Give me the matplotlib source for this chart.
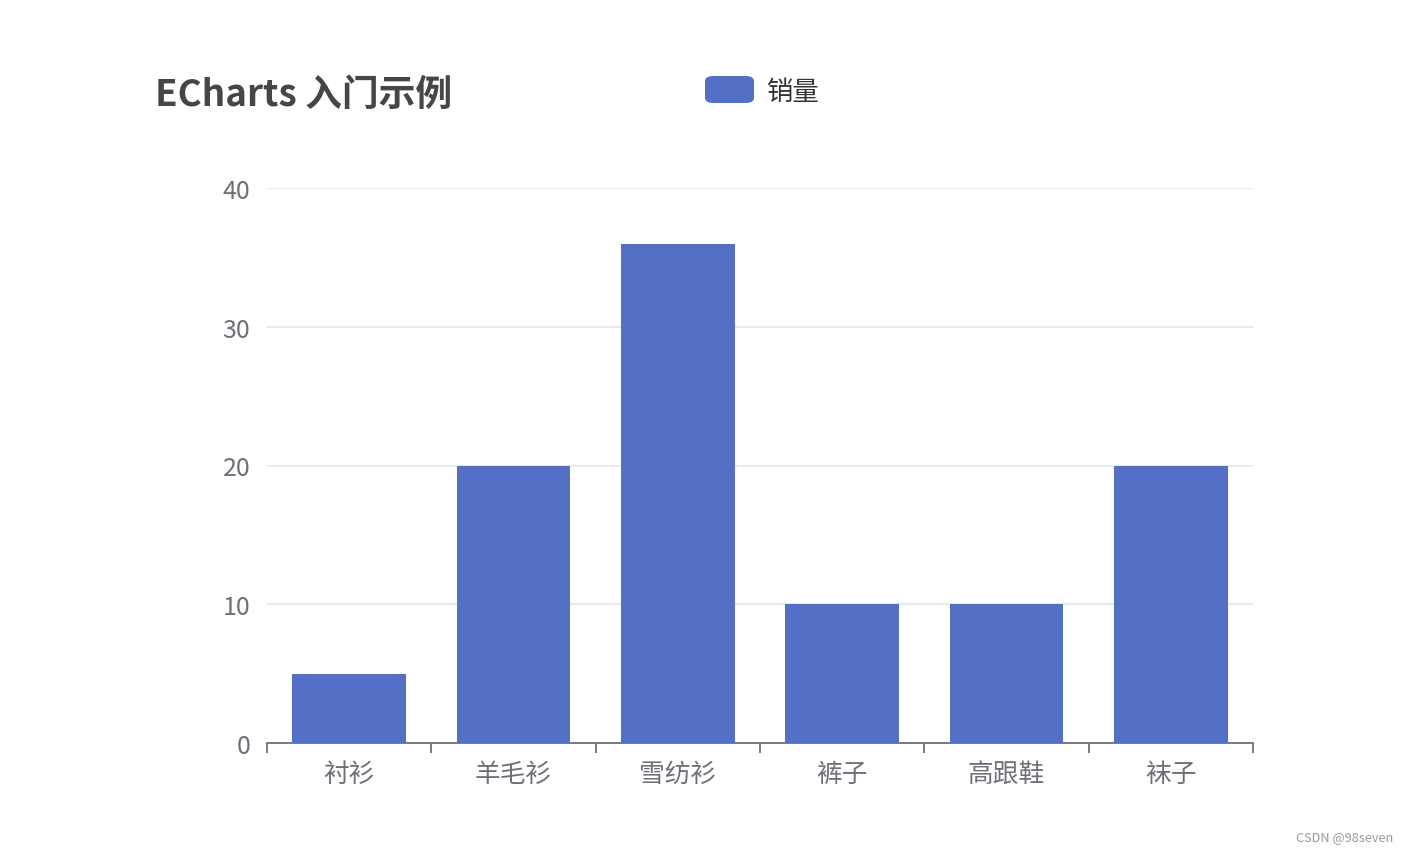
import matplotlib
matplotlib.use("Agg")
import matplotlib.pyplot as plt
from matplotlib.patches import FancyBboxPatch

plt.rcParams['font.family'] = ['Noto Sans CJK SC', 'DejaVu Sans']

# --- DATA ---
categories = ['衬衫', '羊毛衫', '雪纺衫', '裤子', '高跟鞋', '袜子']
sales = [5, 20, 36, 10, 10, 20]
series_name = '销量'
title_text = 'ECharts 入门示例'
y_ticks = [0, 10, 20, 30, 40]

BAR_COLOR = '#5470C6'
AXIS_COLOR = '#6E7079'
GRID_COLOR = '#E0E6F1'

W, H = 1409, 853
fig = plt.figure(figsize=(W / 100, H / 100), dpi=100)

# axes placed to match the ECharts grid (pixels -> figure fraction)
left, right, top, bottom = 267, 1253, 189, 744
ax = fig.add_axes([left / W, 1 - bottom / H, (right - left) / W, (bottom - top) / H])

x = range(len(categories))
ax.bar(x, sales, width=0.69, color=BAR_COLOR, zorder=3)

ax.set_xlim(-0.5, len(categories) - 0.5)
ax.set_ylim(0, 40)
ax.set_yticks(y_ticks)
ax.set_yticklabels([str(v) for v in y_ticks], fontsize=18, color=AXIS_COLOR)
ax.yaxis.grid(True, color=GRID_COLOR, linewidth=1.2, zorder=0)
ax.tick_params(axis='y', length=0, pad=12)

# category labels at centers, tick marks at boundaries
ax.set_xticks(list(x))
ax.set_xticklabels(categories, fontsize=18.5, color=AXIS_COLOR)
ax.tick_params(axis='x', which='major', length=0, pad=13)
ax.set_xticks([i - 0.5 for i in range(len(categories) + 1)], minor=True)
ax.tick_params(axis='x', which='minor', length=7, width=1.3, color=AXIS_COLOR, direction='out')

for s in ['top', 'right', 'left']:
    ax.spines[s].set_visible(False)
ax.spines['bottom'].set_color(AXIS_COLOR)
ax.spines['bottom'].set_linewidth(1.3)

# title
fig.text(155 / W, 1 - 95 / H, title_text, fontsize=26.5, fontweight='bold',
         color='#464646', ha='left', va='center')

# legend (rounded swatch + label)
lx0, lx1, ly0, ly1 = 705, 754, 77, 104
fig.patches.append(FancyBboxPatch((lx0 / W, 1 - ly1 / H), (lx1 - lx0) / W, (ly1 - ly0) / H,
                                  boxstyle='round,pad=0,rounding_size=0.006',
                                  transform=fig.transFigure, facecolor=BAR_COLOR,
                                  edgecolor='none'))
fig.text(766 / W, 1 - 92 / H, series_name, fontsize=19, color='#333333',
         ha='left', va='center')

# watermark
fig.text(1393 / W, 1 - 838 / H, 'CSDN @98seven', fontsize=9.2, color='#999999',
         ha='right', va='center')

fig.savefig('out.png', dpi=100)
